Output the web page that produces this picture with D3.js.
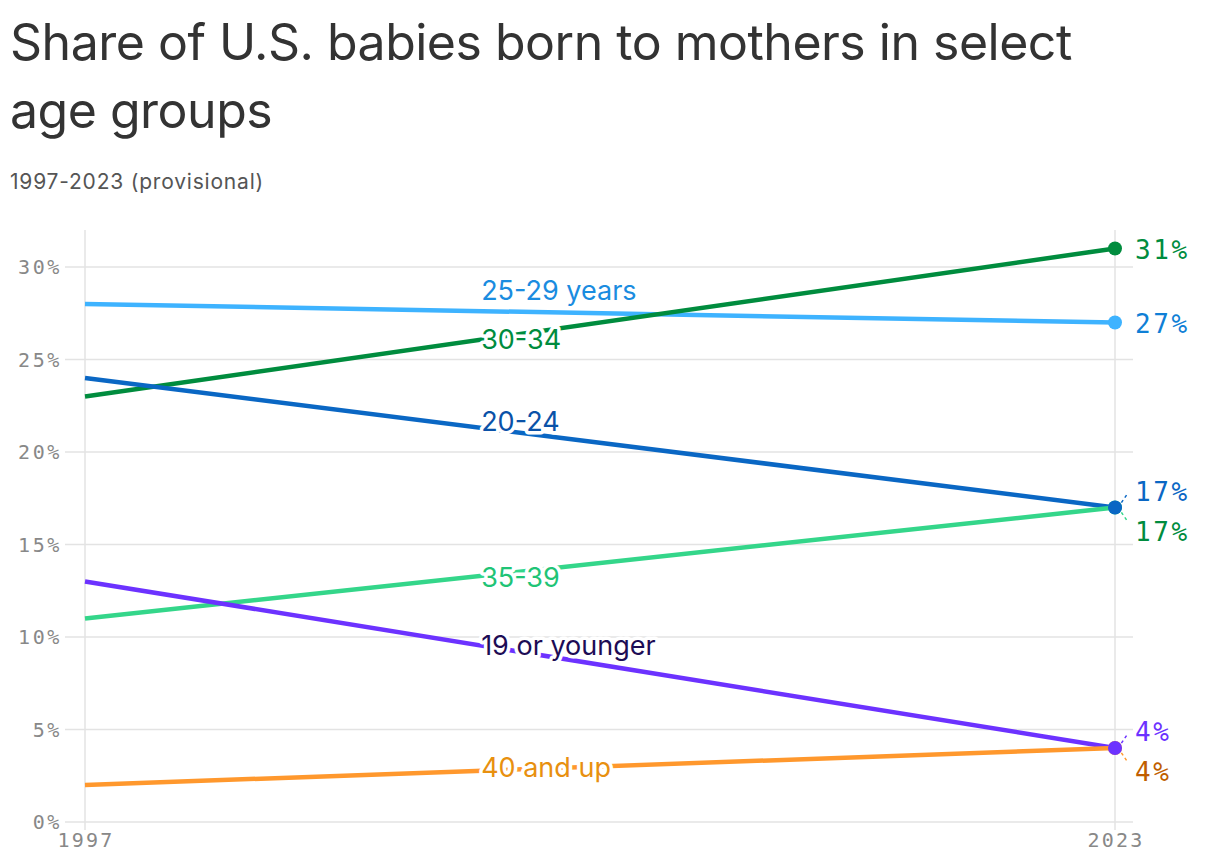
<!DOCTYPE html>
<html>
<head>
<meta charset="utf-8">
<script src="https://cdn.jsdelivr.net/npm/d3@7"></script>
<style>
  body { margin: 0; background: #fff; }
  svg { display: block; }
</style>
</head>
<body>
<div class="container"></div>
<script>
// data
var years = [1997, 2023];
var groups = ["25-29 years", "30-34", "20-24", "35-39", "19 or younger", "40 and up"];
var shares = [
  [28, 27],
  [23, 31],
  [24, 17],
  [11, 17],
  [13, 4],
  [2, 4]
];
var yTicks = [0, 5, 10, 15, 20, 25, 30];
var lineColors = ["#3eb3ff", "#008c3e", "#0a67c4", "#34d68a", "#6c32ff", "#ff982d"];
var labelColors = ["#1a8ce0", "#008c3e", "#0a52a8", "#1fc476", "#1d0c55", "#e8900f"];
var endColors = ["#0f7fd6", "#008c3e", "#0a67c4", "#008c3e", "#6c32ff", "#c05e00"];
var labelYear = 2007;

var W = 1220, H = 864;
var svg = d3.select('.container').append('svg').attr('width', W).attr('height', H);

var x = d3.scaleLinear().domain([1997, 2023]).range([85, 1115]);
var y = d3.scaleLinear().domain([0, 30]).range([822, 267]);

var mono = '"DejaVu Sans Mono", monospace';

// title
var title = svg.append('text')
  .attr('font-family', 'Inter, sans-serif')
  .attr('font-size', 50)
  .attr('fill', '#333')
  .attr('letter-spacing', -0.5);
title.append('tspan').attr('x', 10).attr('y', 60).text('Share of U.S. babies born to mothers in select');
title.append('tspan').attr('x', 10).attr('y', 128).text('age groups');

svg.append('text')
  .attr('x', 10).attr('y', 189)
  .attr('font-family', 'Inter, sans-serif')
  .attr('font-size', 21)
  .attr('fill', '#555')
  .attr('letter-spacing', 0.8)
  .text('1997-2023 (provisional)');

// grid
svg.append('g').selectAll('line')
  .data(yTicks).enter().append('line')
  .attr('x1', 65).attr('x2', 1133)
  .attr('y1', function(d) { return y(d); })
  .attr('y2', function(d) { return y(d); })
  .attr('stroke', '#e3e3e3').attr('stroke-width', 1.5);

svg.append('g').selectAll('line')
  .data(years).enter().append('line')
  .attr('x1', function(d) { return x(d); })
  .attr('x2', function(d) { return x(d); })
  .attr('y1', 230).attr('y2', 830)
  .attr('stroke', '#e3e3e3').attr('stroke-width', 1.5);

// y tick labels
svg.append('g').selectAll('text')
  .data(yTicks).enter().append('text')
  .attr('x', 62)
  .attr('y', function(d) { return y(d) + 7; })
  .attr('text-anchor', 'end')
  .attr('font-family', mono)
  .attr('font-size', 20)
  .attr('letter-spacing', 2.6)
  .attr('fill', '#888')
  .text(function(d) { return d + '%'; });

// x tick labels
svg.append('g').selectAll('text')
  .data(years).enter().append('text')
  .attr('x', function(d) { return x(d) + 1; })
  .attr('y', 847)
  .attr('text-anchor', 'middle')
  .attr('font-family', mono)
  .attr('font-size', 20)
  .attr('fill', '#888')
  .attr('letter-spacing', 2.2)
  .text(function(d) { return d; });

var line = d3.line()
  .x(function(d, i) { return x(years[i]); })
  .y(function(d) { return y(d); });

function valueAt(vals, yr) {
  var t = (yr - years[0]) / (years[1] - years[0]);
  return vals[0] + (vals[1] - vals[0]) * t;
}

// lines
svg.append('g').selectAll('path')
  .data(shares).enter().append('path')
  .attr('d', function(d) { return line(d); })
  .attr('fill', 'none')
  .attr('stroke', function(d, i) { return lineColors[i]; })
  .attr('stroke-width', 4.5);

// in-line labels with white halo
var labelOffsets = [-20, 0, -6, 2, 0, -3];
svg.append('g').selectAll('text')
  .data(groups).enter().append('text')
  .attr('x', x(labelYear))
  .attr('y', function(d, i) { return y(valueAt(shares[i], labelYear)) + labelOffsets[i] + 9; })
  .attr('font-family', 'Inter, sans-serif')
  .attr('font-size', 27)
  .attr('fill', function(d, i) { return labelColors[i]; })
  .attr('stroke', '#fff')
  .attr('stroke-width', 7)
  .attr('stroke-linejoin', 'round')
  .attr('paint-order', 'stroke')
  .text(function(d) { return d; });

// end labels: shifted where two series end on the same value
var endShift = [0, 0, -17, 23, -17, 23];
svg.append('g').selectAll('line')
  .data(shares).enter()
  .filter(function(d, i) { return endShift[i] !== 0; })
  .append('line')
  .attr('x1', x(2023) + 3)
  .attr('x2', x(2023) + 12)
  .attr('y1', function(d) { return y(d[1]); })
  .attr('y2', function(d) {
    var i = shares.indexOf(d);
    return y(d[1]) + (endShift[i] < 0 ? -13 : 13);
  })
  .attr('stroke', function(d) { return lineColors[shares.indexOf(d)]; })
  .attr('stroke-width', 1.5)
  .attr('stroke-dasharray', '3,3');

// dots at 2023, top-listed series drawn last
var order = [5, 3, 4, 2, 1, 0];
svg.append('g').selectAll('circle')
  .data(order).enter().append('circle')
  .attr('cx', x(2023))
  .attr('cy', function(i) { return y(shares[i][1]); })
  .attr('r', 7)
  .attr('fill', function(i) { return lineColors[i]; });

svg.append('g').selectAll('text')
  .data(shares).enter().append('text')
  .attr('x', 1135)
  .attr('y', function(d, i) { return y(d[1]) + endShift[i] + 10; })
  .attr('font-family', mono)
  .attr('font-size', 26)
  .attr('letter-spacing', 2.6)
  .attr('fill', function(d, i) { return endColors[i]; })
  .text(function(d) { return d[1] + '%'; });
</script>
</body>
</html>
